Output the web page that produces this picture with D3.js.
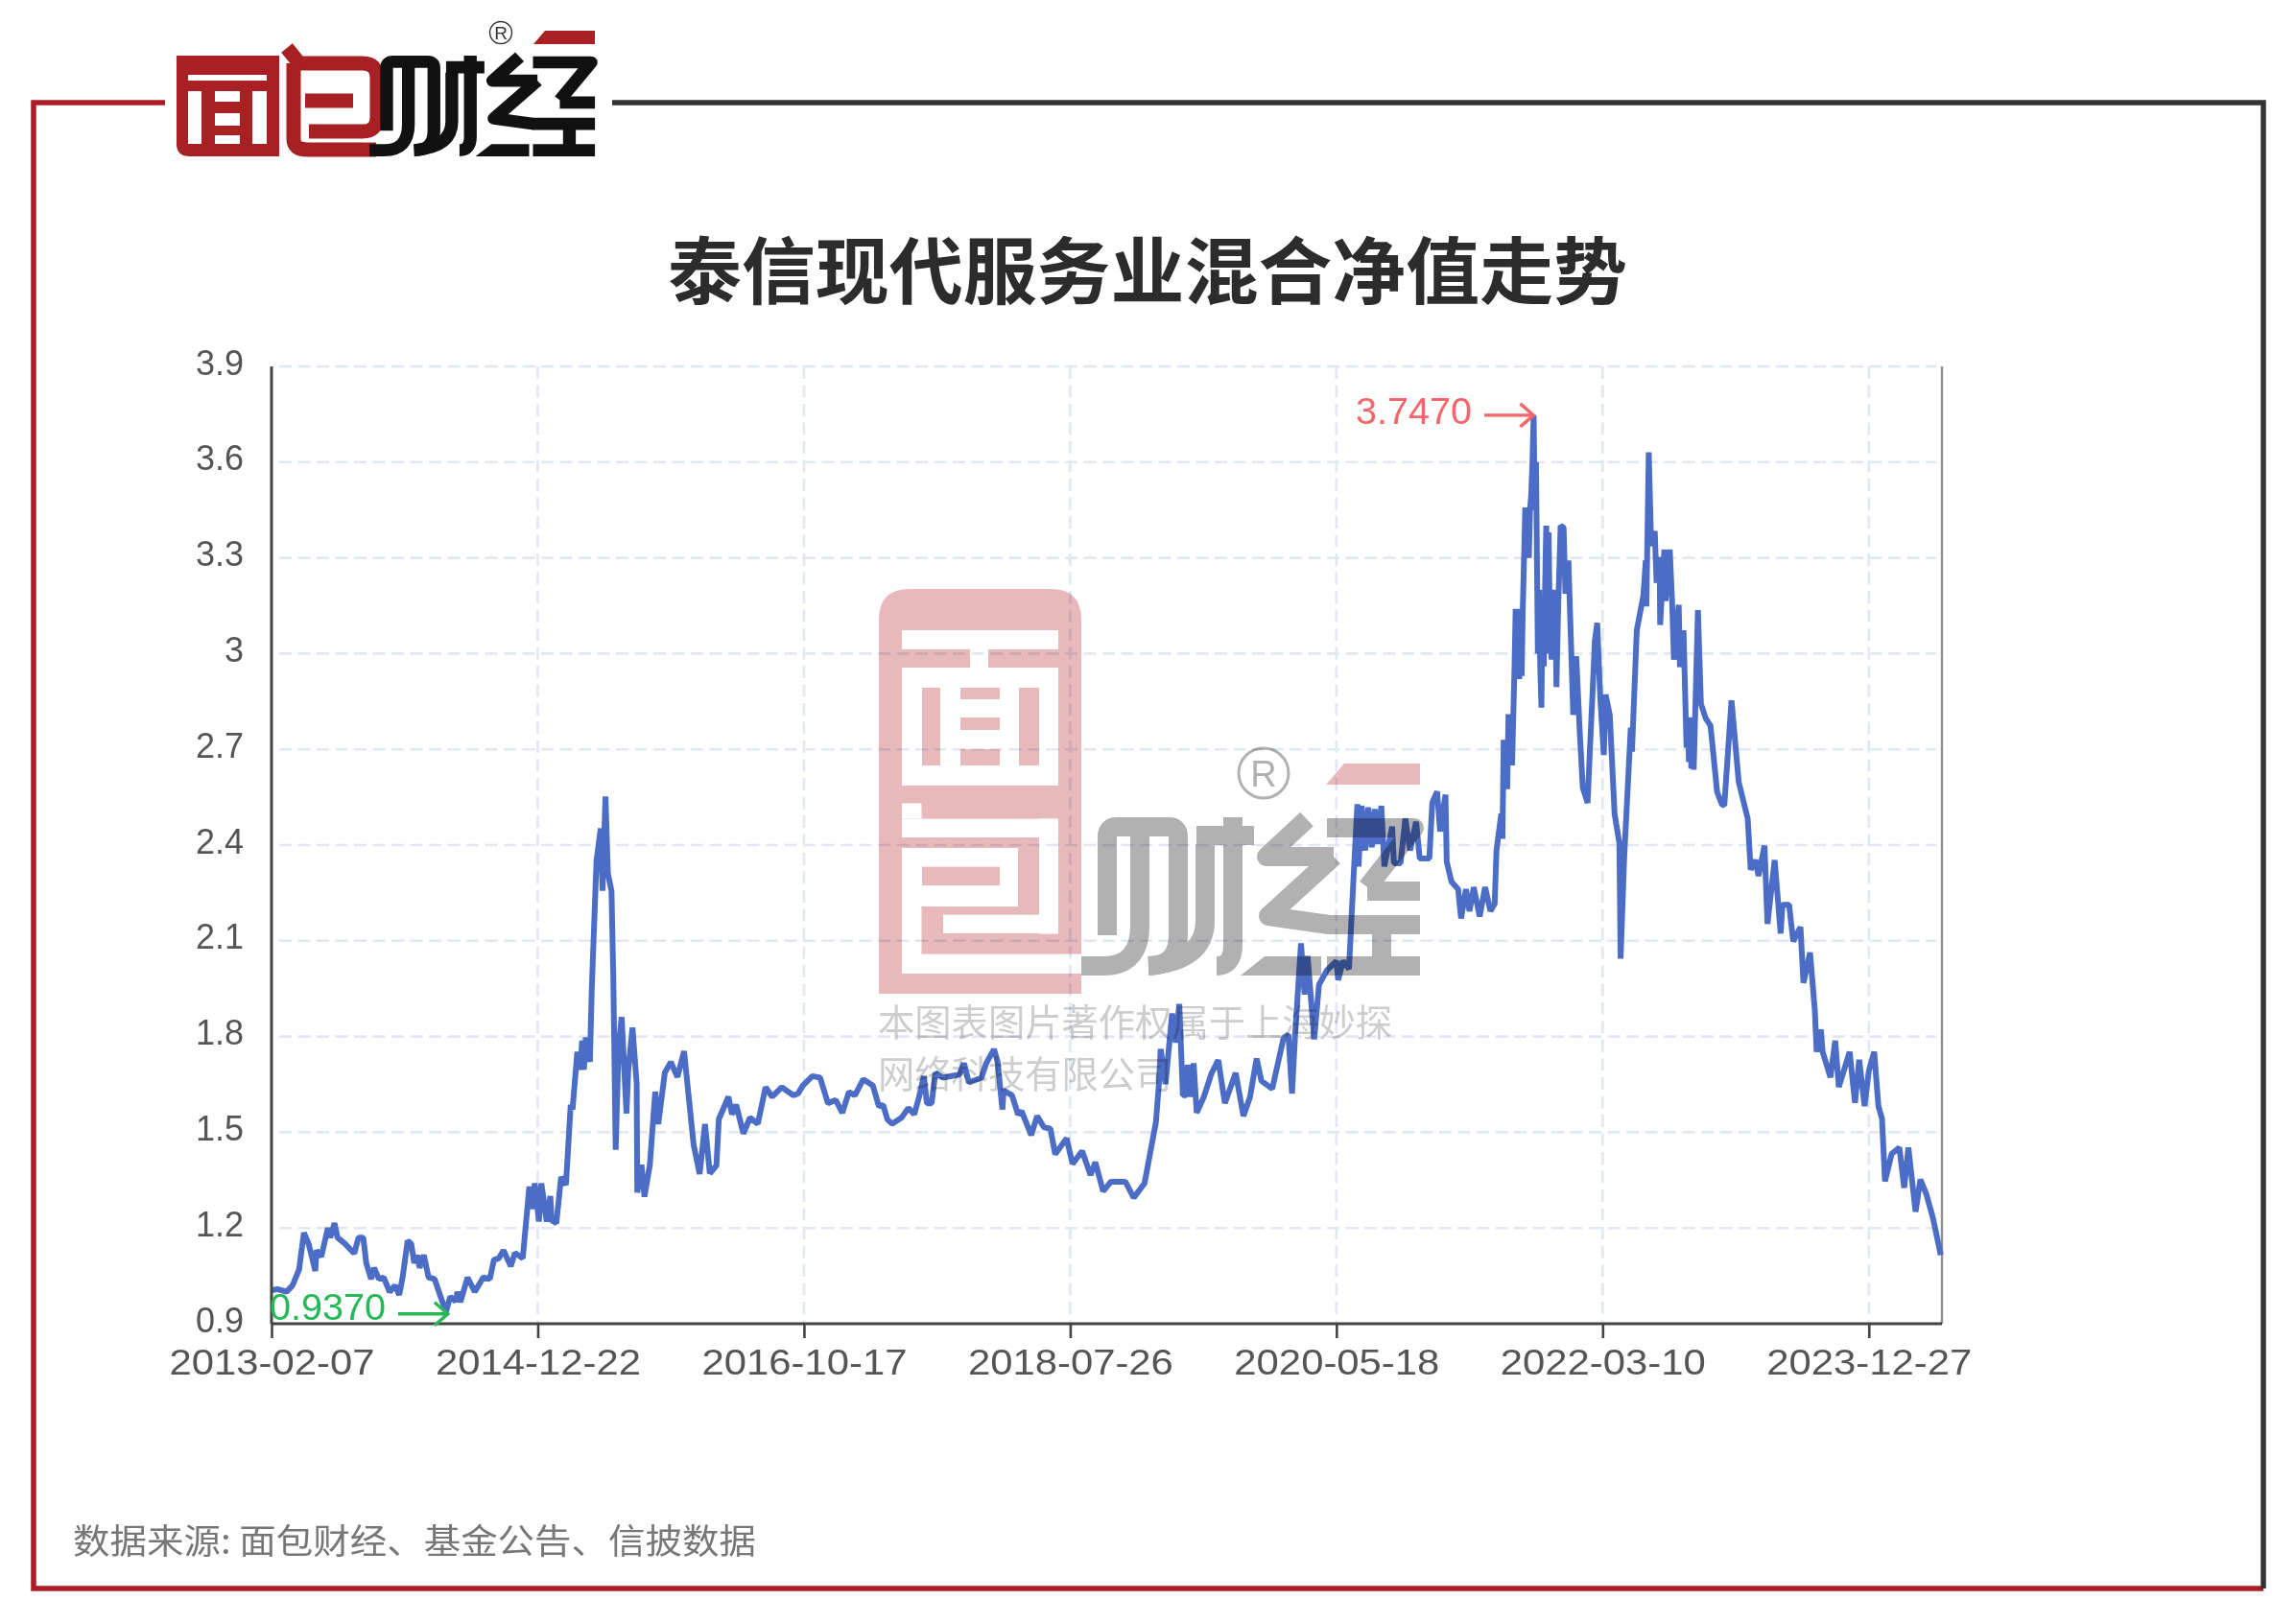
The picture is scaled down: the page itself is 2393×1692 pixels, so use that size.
<!DOCTYPE html>
<html><head><meta charset="utf-8">
<script src="https://cdn.jsdelivr.net/npm/d3@7"></script>
<style>
html,body{margin:0;padding:0;background:#fff}
svg{display:block;font-family:"Noto Sans CJK SC","Noto Sans",sans-serif}
</style></head><body><svg id="c" width="2393" height="1692"></svg>
<script>
const chartTitle = "泰信现代服务业混合净值走势";
const sourceNote = "数据来源: 面包财经、基金公告、信披数据";
const watermarkLines = ["本图表图片著作权属于上海妙探","网络科技有限公司"];
const yTicks = [0.9,1.2,1.5,1.8,2.1,2.4,2.7,3,3.3,3.6,3.9];
const xTickDates = ["2013-02-07","2014-12-22","2016-10-17","2018-07-26","2020-05-18","2022-03-10","2023-12-27"];
const xTickIndex = [0,444,888,1332,1776,2220,2664];
const lastIndex = 2786;
const maxMark = {index:2105,value:3.747,label:"3.7470"};
const minMark = {index:291,value:0.937,label:"0.9370"};
// trading-day index of each traced turning point
const navIndex = [0,11,25,35,46,54,62,73,75,83,94,98,105,110,123,138,145,153,158,166,171,179,187,197,206,213,219,227,233,238,243,247,254,262,272,281,291,298,307,310,315,327,339,353,364,371,379,387,399,406,419,430,435,439,446,450,459,465,467,475,483,491,499,502,510,515,518,521,524,531,534,542,549,552,557,561,567,570,574,579,584,592,595,602,609,610,617,622,631,640,645,656,666,677,688,695,704,714,723,731,742,746,762,768,775,787,798,811,824,835,851,870,878,886,902,915,928,941,952,963,973,987,1003,1013,1020,1027,1035,1051,1062,1072,1080,1088,1093,1101,1107,1120,1147,1155,1163,1184,1192,1205,1211,1219,1221,1235,1245,1251,1267,1277,1288,1299,1307,1326,1336,1352,1366,1374,1387,1400,1424,1438,1456,1467,1475,1480,1483,1491,1502,1508,1514,1520,1526,1528,1534,1538,1543,1555,1568,1579,1590,1608,1621,1632,1643,1651,1669,1688,1696,1702,1707,1717,1723,1728,1739,1747,1760,1776,1779,1787,1797,1805,1811,1813,1818,1824,1829,1835,1840,1845,1851,1856,1869,1872,1883,1891,1899,1909,1915,1931,1936,1944,1949,1958,1960,1968,1979,1984,1992,1998,2005,2015,2024,2033,2040,2043,2051,2053,2055,2057,2059,2061,2063,2065,2067,2069,2071,2073,2075,2077,2079,2081,2083,2085,2087,2089,2091,2093,2095,2097,2099,2101,2103,2105,2107,2109,2110,2112,2114,2116,2118,2120,2122,2124,2126,2128,2130,2132,2135,2137,2139,2141,2143,2146,2150,2155,2158,2163,2168,2171,2176,2182,2187,2195,2199,2203,2207,2211,2216,2222,2225,2232,2240,2248,2250,2256,2267,2269,2277,2288,2292,2293,2297,2301,2307,2310,2315,2316,2323,2325,2332,2336,2339,2347,2349,2355,2360,2362,2364,2366,2368,2370,2372,2379,2384,2392,2400,2411,2419,2423,2435,2447,2462,2467,2475,2480,2490,2495,2507,2517,2520,2531,2538,2550,2555,2566,2574,2577,2584,2587,2600,2608,2614,2632,2641,2648,2657,2664,2673,2680,2686,2691,2702,2715,2723,2730,2742,2750,2760,2771,2784];
const navValue = [1.005,1.008,1.0,1.02,1.07,1.185,1.15,1.065,1.13,1.11,1.2,1.17,1.215,1.17,1.15,1.12,1.17,1.17,1.09,1.04,1.075,1.04,1.045,1.0,1.02,0.99,1.05,1.16,1.15,1.09,1.115,1.075,1.115,1.045,1.04,0.99,0.937,0.985,0.97,1.0,0.968,1.045,1.0,1.045,1.04,1.1,1.105,1.13,1.08,1.122,1.105,1.33,1.26,1.34,1.22,1.34,1.22,1.3,1.225,1.215,1.36,1.335,1.586,1.571,1.752,1.696,1.787,1.696,1.797,1.721,1.942,2.351,2.452,2.257,2.552,2.311,2.257,1.989,1.445,1.774,1.861,1.559,1.694,1.828,1.653,1.311,1.398,1.298,1.398,1.627,1.526,1.687,1.72,1.673,1.754,1.626,1.461,1.369,1.526,1.371,1.396,1.541,1.611,1.556,1.586,1.496,1.546,1.526,1.641,1.611,1.641,1.616,1.621,1.646,1.676,1.671,1.591,1.601,1.561,1.626,1.616,1.666,1.646,1.581,1.586,1.541,1.526,1.546,1.576,1.556,1.611,1.676,1.591,1.591,1.686,1.671,1.681,1.716,1.656,1.671,1.716,1.76,1.721,1.571,1.631,1.616,1.556,1.566,1.491,1.551,1.516,1.511,1.431,1.481,1.401,1.441,1.366,1.406,1.315,1.345,1.345,1.295,1.34,1.451,1.531,1.651,1.761,1.651,1.872,1.781,1.902,1.616,1.616,1.711,1.611,1.716,1.561,1.611,1.686,1.726,1.591,1.686,1.551,1.611,1.731,1.661,1.636,1.796,1.806,1.621,1.801,2.092,1.932,2.052,1.791,1.962,2.007,2.037,1.977,2.037,2.012,2.312,2.528,2.333,2.523,2.383,2.518,2.393,2.513,2.403,2.523,2.333,2.458,2.343,2.343,2.483,2.383,2.473,2.358,2.358,2.533,2.568,2.443,2.558,2.348,2.285,2.262,2.17,2.262,2.193,2.268,2.176,2.268,2.193,2.216,2.383,2.498,2.42,2.73,2.58,2.72,2.575,2.81,2.65,2.81,2.65,2.8,2.95,3.14,2.93,3.14,2.92,3.14,2.93,3.148,3.3,3.458,3.3,3.44,3.3,3.45,3.5,3.6,3.747,3.45,3.6,3.395,3.0,3.2,2.96,2.831,3.16,2.96,3.2,3.401,3.0,3.38,3.1,2.981,3.2,3.02,3.19,2.895,3.15,3.401,3.395,3.188,3.292,2.992,2.808,2.992,2.751,2.579,2.532,2.705,2.866,3.038,3.096,2.866,2.682,2.872,2.808,2.498,2.406,2.044,2.36,2.768,2.693,3.073,3.182,3.292,3.148,3.631,3.338,3.384,3.222,3.303,3.09,3.326,3.165,3.326,3.159,2.981,3.153,2.958,3.073,2.705,2.8,2.66,2.8,2.64,2.8,2.636,3.136,2.843,2.797,2.774,2.567,2.527,2.524,2.853,2.598,2.483,2.323,2.353,2.303,2.398,2.153,2.353,2.123,2.213,2.213,2.098,2.143,1.968,2.063,1.882,1.752,1.822,1.752,1.672,1.787,1.642,1.752,1.592,1.727,1.582,1.692,1.752,1.582,1.542,1.346,1.432,1.452,1.326,1.452,1.251,1.352,1.306,1.231,1.115];

const svg = d3.select("#c");
const defs = svg.append("defs");
const x = d3.scaleLinear().domain([0,lastIndex]).range([283,2024]);
const y = d3.scaleLinear().domain([0.9,3.9]).range([1380,382]);
const gridColor="#e2e7f3";
const axisFont='"Liberation Sans",sans-serif';

// ---------- grid ----------
const grid = svg.append("g").attr("fill","none").attr("stroke",gridColor).attr("stroke-width",2.6).attr("stroke-dasharray","13 6.5");
grid.selectAll(".h").data(yTicks.slice(1)).join("line").attr("x1",x(0)+8).attr("x2",x(lastIndex)-6).attr("y1",d=>y(d)).attr("y2",d=>y(d));
grid.selectAll(".v").data(xTickIndex.slice(1)).join("line").attr("y1",y(3.9)).attr("y2",y(0.9)).attr("x1",d=>x(d)).attr("x2",d=>x(d));

// right edge
svg.append("line").attr("x1",x(lastIndex)).attr("x2",x(lastIndex)).attr("y1",y(3.9)).attr("y2",y(0.9)).attr("stroke","#8f8f8f").attr("stroke-width",2.4);

// ---------- series ----------
const line = d3.line().x(d=>x(d[0])).y(d=>y(d[1]));
svg.append("path").datum(navIndex.map((d,i)=>[d,navValue[i]])).attr("d",line)
  .attr("fill","none").attr("stroke","#4b6dc5").attr("stroke-width",6).attr("stroke-linejoin","bevel");

// ---------- axes ----------
const axisColor="#444";
const ax = svg.append("g").attr("transform",`translate(0,${y(0.9)})`)
  .call(d3.axisBottom(x).tickValues(xTickIndex).tickFormat((d,i)=>xTickDates[i]).tickSize(15).tickPadding(0));
ax.select(".domain").attr("stroke",axisColor).attr("stroke-width",3).attr("d",`M${x(0)},0H${x(lastIndex)}`);
ax.selectAll(".tick line").attr("stroke",axisColor).attr("stroke-width",2.6);
ax.selectAll(".tick text").attr("y",53).attr("dy",0).attr("font-size",37).attr("fill","#555").attr("font-family",axisFont)
  .attr("textLength",214).attr("lengthAdjust","spacingAndGlyphs");
const ay = svg.append("g").attr("transform",`translate(${x(0)},0)`)
  .call(d3.axisLeft(y).tickValues(yTicks).tickFormat(d3.format("~g")).tickSize(0).tickPadding(29));
ay.select(".domain").attr("stroke",axisColor).attr("stroke-width",3).attr("d",`M0,${y(3.9)}V${y(0.9)}`);
ay.selectAll(".tick text").attr("dy","0").attr("y",8).attr("font-size",36).attr("fill","#555").attr("font-family",axisFont);

// ---------- watermark (glyph shapes) ----------
const pink="#e8b9bb", gray="#b1b1b1";
function caijing(g,color){
  const s=g.append("g").attr("fill","none").attr("stroke",color).attr("stroke-width",20);
  const P=[
   "M1154,975V872Q1154,862 1164,862H1218Q1228,862 1228,872V975Q1228,1007 1197,1007",
   "M1188,870V965Q1188,1007 1150,1007H1127",
   "M1247,871H1307",
   "M1285,852V985Q1285,1007 1268,1007",
   "M1256,880V960Q1256,1002 1197,1007",
   "M1362,854L1320,893H1390",
   "M1390,893L1322,955L1385,964",
   "M1383,863H1474L1425,925",
   "M1425,929H1480",
   "M1383,964H1480",
   "M1440,964V1007",
   "M1383,1007H1480"];
  s.selectAll("path").data(P).join("path").attr("d",d=>d).attr("stroke-linejoin","round");
  g.append("path").attr("d","M1293,1017L1318,997H1377V1017Z").attr("fill",color);
}
const wm = svg.append("g").style("mix-blend-mode","multiply");
const mask = defs.append("mask").attr("id","wmMask").attr("maskUnits","userSpaceOnUse").attr("x",900).attr("y",600).attr("width",260).attr("height",450);
mask.append("rect").attr("x",900).attr("y",600).attr("width",260).attr("height",450).attr("fill","#fff");
[[940,657,163,20],[1011,677,19,19],[940,696,163,123],
 [940,837.5,20.5,16],[940,853.6,163,19.4],[1083,853.6,20,120],[940,884,121,61],[940,945,20.5,70],[983,953.6,120,19.4],[940,994.6,187,20.4]]
 .forEach(r=>mask.append("rect").attr("x",r[0]).attr("y",r[1]).attr("width",r[2]).attr("height",r[3]).attr("fill","#000"));
wm.append("path").attr("d","M916,1036V646Q916,614 948,614H1095Q1127,614 1127,646V1036Z").attr("fill",pink).attr("mask","url(#wmMask)");
[[961,717,19,81],[1062,717,21,81],[1001,717,41,12],[1001,748,41,13],[1001,781,41,17],[961,903.6,81,19.4]]
 .forEach(r=>wm.append("rect").attr("x",r[0]).attr("y",r[1]).attr("width",r[2]).attr("height",r[3]).attr("fill",pink));
caijing(wm,gray);
wm.append("path").attr("d","M1382,818L1401,796H1480V818Z").attr("fill",pink);
wm.append("circle").attr("cx",1317).attr("cy",806).attr("r",26).attr("fill","none").attr("stroke",gray).attr("stroke-width",3);
wm.append("text").attr("x",1317).attr("y",820).attr("text-anchor","middle").attr("font-size",38).attr("fill",gray).attr("font-family",axisFont).text("R");
wm.selectAll(".wt").data(watermarkLines).join("text").attr("x",915).attr("y",(d,i)=>1080+i*54).attr("font-size",38.3).attr("fill","#cdcdcd").text(d=>d);

// ---------- extreme markers ----------
function marker(m,color,labelX,labelY,arrowFrom,tipDx,tipDy){
  const tx=x(m.index)+tipDx, ty=y(m.value)+tipDy;
  const g=svg.append("g");
  g.append("text").attr("x",labelX).attr("y",labelY).attr("font-size",38).attr("fill",color).attr("font-family",axisFont)
    .attr("textLength",121).attr("lengthAdjust","spacingAndGlyphs").text(m.label);
  g.append("path").attr("d",`M${arrowFrom},${ty}H${tx}M${tx-14},${ty-12}L${tx},${ty}L${tx-14},${ty+12}`)
    .attr("fill","none").attr("stroke",color).attr("stroke-width",3.4);
}
marker(maxMark,"#f4666a",1413,442,1547,0,0);
marker(minMark,"#25b856",281,1376,415,2,2);

// ---------- frame ----------
const frame=svg.append("g").attr("fill","none").attr("stroke-width",5.5);
frame.append("path").attr("d","M172,107H35V1656H2359").attr("stroke","#ab1c24");
frame.append("path").attr("d","M638,107H2359V1656").attr("stroke","#333");

// ---------- header logo ----------
const red="#a81f24";
const logo=svg.append("g");
logo.append("path").attr("d","M184,58H291V163H198Q184,163 184,150Z").attr("fill",red);
[[196,78,82,6],[196,95,14,55],[263,95,15,55],[224,95,26,11],[224,118,26,13],[224,141,26,9]]
 .forEach(r=>logo.append("rect").attr("x",r[0]).attr("y",r[1]).attr("width",r[2]).attr("height",r[3]).attr("fill","#fff"));
const bao=logo.append("g").attr("fill","none").attr("stroke",red).attr("stroke-width",15);
["M299,50L312,66H378Q393,66 393,82V122Q393,137 378,137H322",
 "M306,66V145Q306,156 320,156H392",
 "M318,105H368"].forEach(d=>bao.append("path").attr("d",d));
const cj=logo.append("g").attr("transform",`translate(${385-1127*0.666},${58-852*0.636}) scale(0.666,0.636)`);
caijing(cj,"#111");
logo.append("path").attr("d","M556,46L568,32H620V46Z").attr("fill",red);
logo.append("circle").attr("cx",522).attr("cy",34).attr("r",11.5).attr("fill","none").attr("stroke","#333").attr("stroke-width",1.4);
logo.append("text").attr("x",522).attr("y",41).attr("text-anchor","middle").attr("font-size",19).attr("fill","#333").attr("font-family",axisFont).text("R");

// ---------- titles ----------
svg.append("text").attr("x",1196).attr("y",311).attr("text-anchor","middle").attr("font-size",76).attr("font-weight",700).attr("fill","#2c2c2c")
  .attr("textLength",1000).attr("lengthAdjust","spacingAndGlyphs").text(chartTitle);
svg.append("text").attr("x",76).attr("y",1620).attr("font-size",36).attr("fill","#777")
  .attr("textLength",712).attr("lengthAdjust","spacingAndGlyphs").text(sourceNote);
</script></body></html>
